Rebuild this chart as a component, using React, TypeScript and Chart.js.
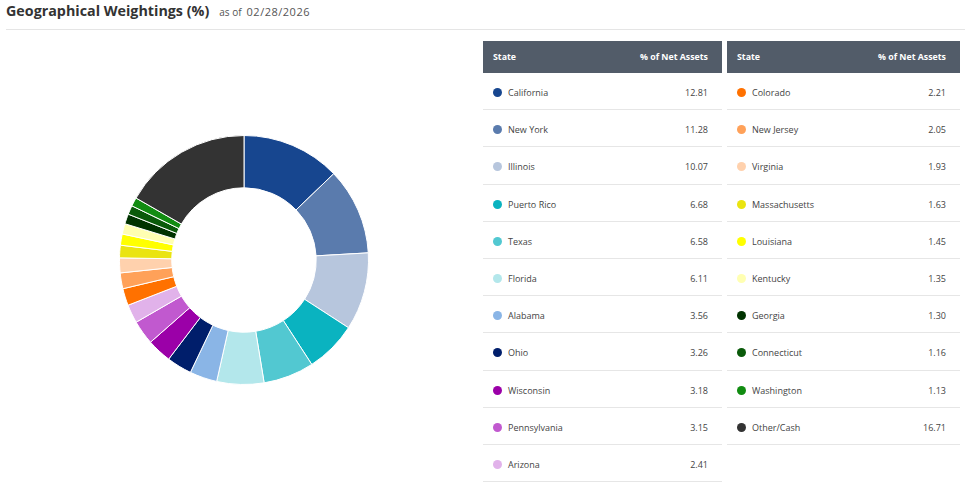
import React, { useEffect, useRef } from "react";
import { Chart, registerables } from "chart.js";

Chart.register(...registerables);

const states = [
  "California", "New York", "Illinois", "Puerto Rico", "Texas", "Florida", "Alabama",
  "Ohio", "Wisconsin", "Pennsylvania", "Arizona", "Colorado", "New Jersey", "Virginia",
  "Massachusetts", "Louisiana", "Kentucky", "Georgia", "Connecticut", "Washington", "Other/Cash",
];
const weights = [
  12.81, 11.28, 10.07, 6.68, 6.58, 6.11, 3.56, 3.26, 3.18, 3.15, 2.41,
  2.21, 2.05, 1.93, 1.63, 1.45, 1.35, 1.30, 1.16, 1.13, 16.71,
];
const colors = [
  "#17468f", "#5a7bad", "#b7c6dd", "#0ab3c0", "#52c8d1", "#b3e7eb", "#8ab5e6",
  "#001e6b", "#9b00a8", "#c159cf", "#e1b2ea", "#ff7100", "#ffa159", "#ffd1ad",
  "#eae410", "#ffff00", "#ffffb2", "#003300", "#0a5a0a", "#118c11", "#333333",
];
const title = "Geographical Weightings (%)";
const asOfLabel = "as of";
const asOfDate = "02/28/2026";
const colHeaders = ["State", "% of Net Assets"];

const FONT = "'Open Sans', 'Noto Sans', sans-serif";

function Table({ start, end, left, width }: { start: number; end: number; left: number; width: number }) {
  const rows = [];
  for (let i = start; i < end; i++) rows.push(i);
  return (
    <div style={{ position: "absolute", left, top: 41, width, fontFamily: FONT }}>
      <div
        style={{
          height: 32,
          background: "#525c69",
          color: "#fff",
          fontWeight: 700,
          fontSize: 8.8,
          display: "flex",
          alignItems: "center",
          justifyContent: "space-between",
          padding: "0 14px 0 10px",
          boxSizing: "border-box",
        }}
      >
        <span>{colHeaders[0]}</span>
        <span>{colHeaders[1]}</span>
      </div>
      {rows.map((i) => (
        <div
          key={i}
          style={{
            height: 37.2,
            borderBottom: "1px solid #e6e6e6",
            boxSizing: "border-box",
            display: "flex",
            alignItems: "center",
            justifyContent: "space-between",
            padding: "3px 14px 0 10px",
            fontSize: 9,
            color: "#444",
          }}
        >
          <span style={{ display: "flex", alignItems: "center" }}>
            <span
              style={{
                display: "inline-block",
                width: 9,
                height: 9,
                borderRadius: "50%",
                background: colors[i],
                marginRight: 6,
              }}
            />
            {states[i]}
          </span>
          <span>{weights[i].toFixed(2)}</span>
        </div>
      ))}
    </div>
  );
}

export default function App() {
  const ref = useRef<HTMLCanvasElement | null>(null);
  useEffect(() => {
    if (!ref.current) return;
    const chart = new Chart(ref.current, {
      type: "doughnut",
      data: {
        labels: states,
        datasets: [
          {
            data: weights,
            backgroundColor: colors,
            borderColor: "#ffffff",
            borderWidth: 1,
            hoverOffset: 0,
            offset: 0,
          },
        ],
      },
      options: {
        responsive: false,
        animation: false,
        cutout: "58%",
        layout: { padding: 0 },
        plugins: { legend: { display: false }, tooltip: { enabled: false } },
      },
    });
    return () => chart.destroy();
  }, []);

  return (
    <div style={{ position: "relative", width: 975, height: 487, background: "#fff", overflow: "hidden" }}>
      <style>{`body{margin:0;}`}</style>
      <div style={{ position: "absolute", left: 6, top: 0, fontFamily: FONT, display: "flex", alignItems: "baseline" }}>
        <span style={{ fontSize: 14.3, fontWeight: 700, color: "#333", lineHeight: "21px" }}>{title}</span>
        <span style={{ fontSize: 10, color: "#555", marginLeft: 10 }}>{asOfLabel}</span>
        <span style={{ fontSize: 11, color: "#555", marginLeft: 5, letterSpacing: 0.5 }}>{asOfDate}</span>
      </div>
      <div style={{ position: "absolute", left: 6, top: 29, width: 959, height: 1, background: "#e5e5e5" }} />
      <canvas ref={ref} width={250} height={250} style={{ position: "absolute", left: 119, top: 135 }} />
      <Table start={0} end={11} left={483} width={239} />
      <Table start={11} end={21} left={727} width={233} />
    </div>
  );
}
